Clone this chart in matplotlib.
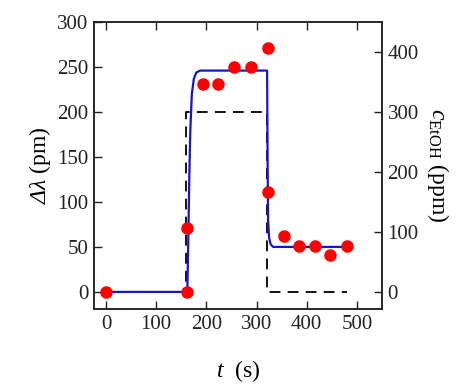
import matplotlib
matplotlib.use("Agg")
import matplotlib.pyplot as plt

plt.rcParams['font.family'] = ['Liberation Serif', 'DejaVu Serif']
plt.rcParams['mathtext.fontset'] = 'custom'
plt.rcParams['mathtext.rm'] = 'Liberation Serif'
plt.rcParams['mathtext.it'] = 'Liberation Serif:italic'
plt.rcParams['mathtext.sf'] = 'Liberation Serif:italic'

# measured points (t in s, shift in pm)
t_meas = [0, 162, 162, 194, 224, 256, 288, 322, 322, 354, 384, 416, 446, 480]
dl_meas = [0, 0, 71, 231, 231, 250, 250, 271, 111, 62, 51, 51, 41, 51]

# fitted response (blue line)
t_fit = [0, 162, 164, 166, 168, 171, 175, 180, 188, 321, 322, 323, 325, 328, 333, 475]
dl_fit = [0, 0, 60, 130, 180, 220, 237, 244, 246, 246, 150, 80, 60, 53, 50, 50]

# ethanol concentration step (ppm)
t_conc = [0, 160, 160, 320, 320, 480]
c_conc = [0, 0, 300, 300, 0, 0]

fig = plt.figure(figsize=(4.74, 3.87), dpi=100)
ax = fig.add_axes([94/474, 1 - 309/387, 288/474, 287/387])
ax2 = ax.twinx()

ax2.plot(t_conc, c_conc, color='black', lw=1.3, ls=(0, (6, 4)), zorder=1)
ax.plot(t_fit, dl_fit, color='#1414d8', lw=1.6, zorder=2)
ax.plot(t_meas, dl_meas, 'o', color='#ff0000', ms=8, zorder=3)
ax.set_zorder(ax2.get_zorder() + 1)
ax.patch.set_visible(False)

ax.set_xlim(-24, 550)
ax.set_ylim(-19, 300)
ax2.set_ylim(-28.5, 450)
ax.set_xticks([0, 100, 200, 300, 400, 500])
ax.set_yticks([0, 50, 100, 150, 200, 250, 300])
ax2.set_yticks([0, 100, 200, 300, 400])

ax.tick_params(axis='both', direction='in', length=5.5, width=1, labelsize=15,
               top=True, right=False, pad=4, colors='#222222', labelcolor='#222222')
ax2.tick_params(axis='y', direction='in', length=5.5, width=1, labelsize=15, pad=4,
                colors='#222222', labelcolor='#222222')
for a in (ax, ax2):
    for s in a.spines.values():
        s.set_linewidth(1.1)
        s.set_color('#222222')

ax.set_ylabel(r'$\mathsf{Δλ}$ (pm)', fontsize=17, labelpad=3)
ax2.set_ylabel(r'$c_{\mathrm{EtOH}}$ (ppm)', fontsize=17, rotation=-90, labelpad=23)
ax.set_xlabel(r'$t$  (s)', fontsize=17, labelpad=18)

fig.savefig('out.png', dpi=100)
